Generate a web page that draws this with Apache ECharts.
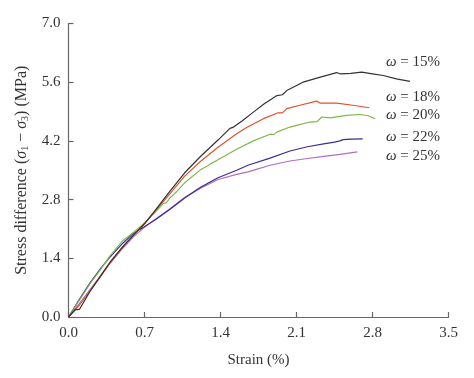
<!DOCTYPE html>
<html>
<head>
<meta charset="utf-8">
<script src="https://cdn.jsdelivr.net/npm/echarts@6/dist/echarts.min.js"></script>
<style>html,body{margin:0;padding:0;background:#fff}#c{width:474px;height:378px}</style>
</head>
<body>
<div id="c"></div>
<script>
// Data (strain %, stress difference MPa)
const seriesNames = ['ω = 15%', 'ω = 18%', 'ω = 20%', 'ω = 22%', 'ω = 25%'];
const w15 = [[0,0],[0.06,0.17],[0.10,0.18],[0.2,0.62],[0.3,1.00],[0.38,1.30],[0.5,1.68],[0.6,1.96],[0.7,2.22],[0.8,2.55],[0.935,3.00],[1.07,3.44],[1.22,3.84],[1.377,4.22],[1.487,4.50],[1.52,4.53],[1.595,4.67],[1.7,4.88],[1.8,5.08],[1.92,5.28],[1.97,5.30],[2.01,5.40],[2.16,5.60],[2.32,5.72],[2.47,5.83],[2.5,5.80],[2.6,5.81],[2.70,5.84],[2.8,5.80],[2.9,5.76],[3.02,5.68],[3.145,5.62]];
const w18 = [[0,0],[0.1,0.28],[0.2,0.62],[0.3,0.98],[0.38,1.28],[0.5,1.67],[0.6,1.96],[0.69,2.20],[0.8,2.53],[0.935,2.94],[1.07,3.36],[1.22,3.72],[1.377,4.05],[1.549,4.37],[1.641,4.52],[1.795,4.73],[1.93,4.87],[1.97,4.87],[2.01,4.97],[2.13,5.05],[2.286,5.15],[2.32,5.10],[2.47,5.10],[2.62,5.05],[2.77,4.99]];
const w20 = [[0,0],[0.1,0.40],[0.2,0.80],[0.3,1.15],[0.38,1.45],[0.5,1.82],[0.6,2.02],[0.69,2.22],[0.8,2.50],[0.87,2.70],[0.9,2.72],[0.935,2.84],[1.0,3.00],[1.07,3.20],[1.22,3.52],[1.28,3.60],[1.30,3.64],[1.377,3.75],[1.549,4.00],[1.702,4.20],[1.856,4.36],[1.89,4.35],[1.918,4.41],[2.04,4.53],[2.10,4.57],[2.224,4.65],[2.29,4.66],[2.332,4.77],[2.41,4.75],[2.56,4.81],[2.685,4.83],[2.76,4.80],[2.823,4.73]];
const w22 = [[0,0],[0.1,0.42],[0.2,0.82],[0.3,1.17],[0.38,1.42],[0.5,1.76],[0.6,2.00],[0.69,2.14],[0.8,2.32],[0.935,2.57],[1.07,2.84],[1.22,3.10],[1.377,3.32],[1.549,3.50],[1.653,3.62],[1.856,3.79],[2.04,3.96],[2.2,4.06],[2.35,4.13],[2.45,4.17],[2.50,4.20],[2.53,4.23],[2.60,4.24],[2.71,4.25]];
const w25 = [[0,0],[0.1,0.32],[0.2,0.66],[0.3,1.00],[0.38,1.27],[0.5,1.64],[0.6,1.92],[0.69,2.12],[0.8,2.33],[0.935,2.58],[1.07,2.85],[1.22,3.08],[1.377,3.28],[1.549,3.40],[1.653,3.46],[1.73,3.52],[1.856,3.62],[2.04,3.72],[2.2,3.78],[2.35,3.83],[2.5,3.88],[2.66,3.94]];
const seriesData = [w15, w18, w20, w22, w25];
const xTicks = [0.0, 0.7, 1.4, 2.1, 2.8, 3.5];
const yTicks = [0.0, 1.4, 2.8, 4.2, 5.6, 7.0];

const colors = ['#333333', '#e2512d', '#7cb84a', '#3a2e92', '#b26cc2'];
const labelTops = [64, 99, 117, 139, 158];
const FONT = '"Liberation Serif", "Times New Roman", serif';

const chart = echarts.init(document.getElementById('c'), null, {renderer: 'canvas'});
const axisCommon = {
  axisLine: {show: true, lineStyle: {color: '#666', width: 1.2}},
  axisTick: {show: true, inside: true, length: 5, lineStyle: {color: '#666', width: 1.2}},
  splitLine: {show: false},
  axisLabel: {color: '#333', fontFamily: FONT, fontSize: 15, formatter: v => v.toFixed(1)}
};
chart.setOption({
  animation: false,
  color: colors,
  grid: {left: 68.5, right: 25.5, top: 23.5, bottom: 61, containLabel: false},
  xAxis: Object.assign({}, axisCommon, {
    type: 'value', min: xTicks[0], max: xTicks[xTicks.length-1], interval: 0.7,
    name: 'Strain (%)', nameLocation: 'middle', nameGap: 36,
    nameTextStyle: {color: '#333', fontFamily: FONT, fontSize: 15},
    axisLabel: Object.assign({}, axisCommon.axisLabel, {margin: 9})
  }),
  yAxis: Object.assign({}, axisCommon, {
    type: 'value', min: yTicks[0], max: yTicks[yTicks.length-1], interval: 1.4,
    name: '{n|Stress difference (}{i|σ}{s|1}{n| − }{i|σ}{s|3}{n|) (MPa)}',
    nameLocation: 'middle', nameGap: 35,
    nameTextStyle: {
      color: '#333', fontFamily: FONT, fontSize: 16,
      rich: {
        n: {fontFamily: FONT, fontSize: 16, color: '#333', lineHeight: 19, verticalAlign: 'middle'},
        i: {fontFamily: FONT, fontSize: 16, fontStyle: 'italic', color: '#333', lineHeight: 19, verticalAlign: 'middle'},
        s: {fontFamily: FONT, fontSize: 10, color: '#333', lineHeight: 11, verticalAlign: 'bottom'}
      }
    },
    axisLabel: Object.assign({}, axisCommon.axisLabel, {margin: 8})
  }),
  series: seriesData.map((d, k) => ({
    type: 'line', name: seriesNames[k], data: d, showSymbol: false, symbol: 'none',
    lineStyle: {width: 1.2, color: colors[k]}, z: 5 - k
  })),
  graphic: seriesNames.map((nm, k) => ({
    type: 'text', left: 386, top: labelTops[k] - 9,
    style: {
      text: '{i|ω}{n|' + nm.slice(1) + '}',
      rich: {
        i: {fontFamily: FONT, fontSize: 15, fontStyle: 'italic', fill: '#333'},
        n: {fontFamily: FONT, fontSize: 15, fill: '#333'}
      }
    }
  }))
});
</script>
</body>
</html>
